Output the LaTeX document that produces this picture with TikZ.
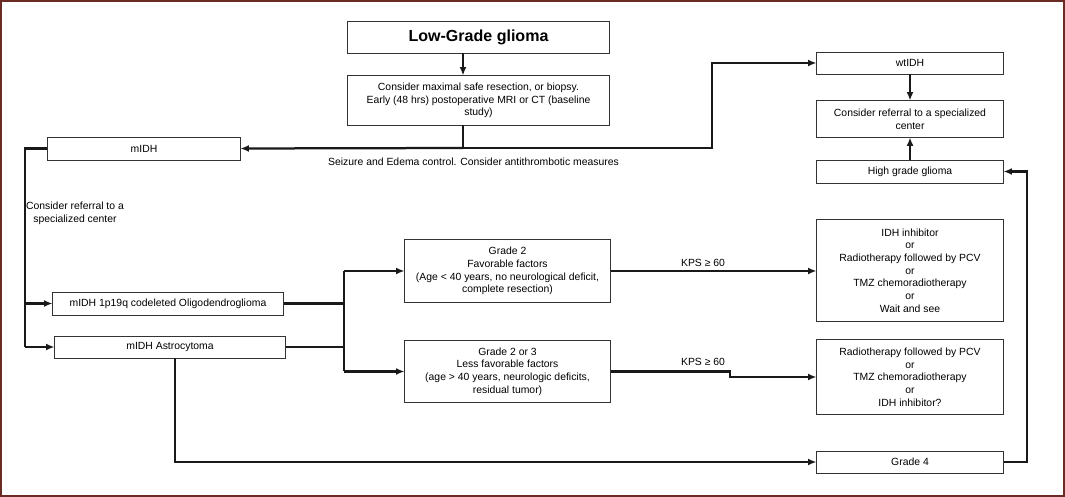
\documentclass[tikz,border=0pt]{standalone}
\usepackage{fontspec}
\setmainfont{Liberation Sans}
\usetikzlibrary{arrows.meta}

\definecolor{framered}{HTML}{6B2A24}

\begin{document}
\begin{tikzpicture}[
    x=0.025cm, y=-0.025cm,            % one unit = one pixel of the figure
    txt/.style={font=\fontsize{7.4}{9}\selectfont, align=center},
    box/.style={txt, draw=black!80, line width=0.7pt, fill=white, inner sep=1pt},
    wbox/.style={box, minimum width=4.65cm},   % right column boxes
    flow/.style={line width=1.6pt, black!90},
    arr/.style={flow, -{Latex[length=6pt,width=5pt]}},
  ]
  % frame of the figure
  \useasboundingbox (0,0) rectangle (1065,497);
  \draw[framered, line width=1.4pt] (1,1) rectangle (1064,496);

  % top of the chart
  \node[box, minimum width=6.525cm, minimum height=0.775cm,
        font=\fontsize{11.4}{13}\selectfont\bfseries] (lgg) at (478.5,37.5) {Low-Grade glioma};
  \node[box, minimum width=6.525cm, minimum height=1.225cm] (surg) at (478.5,100.5)
    {Consider maximal safe resection, or biopsy.\\Early (48 hrs) postoperative MRI or CT (baseline\\study)};
  \coordinate (split) at (463,148);
  \coordinate (bendw) at (712,148);

  % IDH status
  \node[box, minimum width=4.8cm, minimum height=0.575cm] (midh) at (144,148.5) {mIDH};
  \node[wbox, minimum height=0.55cm] (wtidh) at (910,63) {wtIDH};
  \node[wbox, minimum height=0.9cm] (refer) at (910,119) {Consider referral to a specialized\\center};
  \node[wbox, minimum height=0.575cm] (hgg) at (910,171.5) {High grade glioma};
  \node[txt] (seiz) at (473.5,162) {Seizure and Edema control. Consider antithrombotic measures};

  % mIDH branch
  \coordinate (trunk) at (25,148.5);
  \node[txt] (reflbl) at (75,213.5) {Consider referral to a\\specialized center};
  \node[box, minimum width=5.75cm, minimum height=0.575cm] (oligo) at (168,303.5) {mIDH 1p19q codeleted Oligodendroglioma};
  \node[box, minimum width=5.75cm, minimum height=0.55cm] (astro) at (170,347) {mIDH Astrocytoma};
  \coordinate (join) at (344,271);

  % grades
  \node[box, minimum width=5.125cm, minimum height=1.55cm] (gr2) at (507.5,271)
    {Grade 2\\Favorable factors\\(Age < 40 years, no neurological deficit,\\complete resection)};
  \node[box, minimum width=5.125cm, minimum height=1.525cm] (gr23) at (507.5,371.5)
    {Grade 2 or 3\\Less favorable factors\\(age > 40 years, neurologic deficits,\\residual tumor)};
  \node[wbox, minimum height=2.525cm] (tx1) at (910,270.5)
    {IDH inhibitor\\or\\Radiotherapy followed by PCV\\or\\TMZ chemoradiotherapy\\or\\Wait and see};
  \node[wbox, minimum height=1.85cm] (tx2) at (910,377)
    {Radiotherapy followed by PCV\\or\\TMZ chemoradiotherapy\\or\\IDH inhibitor?};
  \node[wbox, minimum height=0.55cm] (gr4) at (910,462) {Grade 4};
  \node[txt] (kps1) at (703,263) {KPS ≥ 60};
  \node[txt] (kps2) at (703,362) {KPS ≥ 60};
  \coordinate (step) at (730,371.5);
  \coordinate (back) at (1027,462);

  % connectors
  \draw[arr] (lgg.south -| split) -- (surg.north -| split);
  \draw[flow] (surg.south -| split) -- (split);
  \draw[arr] (split) -- (midh.east);
  \draw[arr] (split) -- (bendw) |- (wtidh.west);
  \draw[arr] (wtidh) -- (refer);
  \draw[arr] (hgg) -- (refer);

  \draw[flow] (midh.west) -- (trunk) -- (trunk |- astro);
  \draw[arr] (trunk |- oligo) -- (oligo.west);
  \draw[arr] (trunk |- astro) -- (astro.west);
  \draw[flow] (oligo.east) -- (join |- oligo);
  \draw[flow] (astro.east) -- (join |- astro);
  \draw[flow] (join) -- (join |- gr23);
  \draw[arr] (join) -- (gr2.west);
  \draw[arr] (join |- gr23) -- (gr23.west);

  \draw[arr] (gr2.east) -- (gr2.east -| tx1.west);
  \draw[arr] (gr23.east) -- (step) -- (step |- tx2) -- (tx2.west);
  \draw[arr] (astro.south -| 175,0) -- (175,462) -- (gr4.west);
  \draw[arr] (gr4.east) -- (back) |- (hgg.east);
\end{tikzpicture}
\end{document}
